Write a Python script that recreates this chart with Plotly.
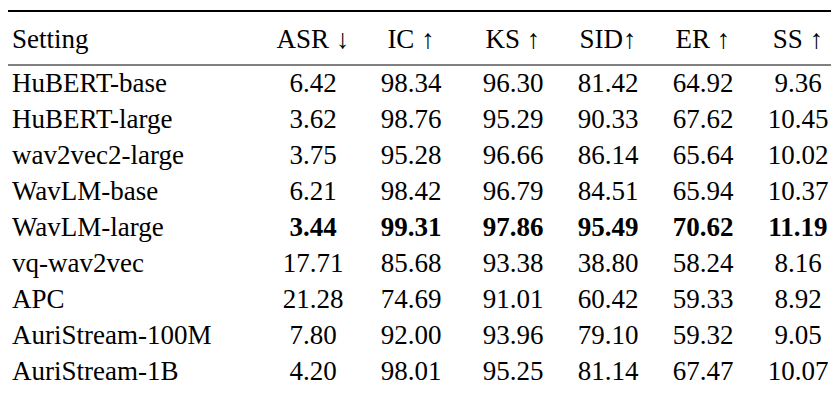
import plotly.graph_objects as go

header = ["Setting", "ASR ↓", "IC ↑", "KS ↑", "SID↑", "ER ↑", "SS ↑"]
settings = ["HuBERT-base", "HuBERT-large", "wav2vec2-large", "WavLM-base", "WavLM-large",
            "vq-wav2vec", "APC", "AuriStream-100M", "AuriStream-1B"]
asr = ["6.42", "3.62", "3.75", "6.21", "3.44", "17.71", "21.28", "7.80", "4.20"]
ic = ["98.34", "98.76", "95.28", "98.42", "99.31", "85.68", "74.69", "92.00", "98.01"]
ks = ["96.30", "95.29", "96.66", "96.79", "97.86", "93.38", "91.01", "93.96", "95.25"]
sid = ["81.42", "90.33", "86.14", "84.51", "95.49", "38.80", "60.42", "79.10", "81.14"]
er = ["64.92", "67.62", "65.64", "65.94", "70.62", "58.24", "59.33", "59.32", "67.47"]
ss = ["9.36", "10.45", "10.02", "10.37", "11.19", "8.16", "8.92", "9.05", "10.07"]
best_row = "WavLM-large"

font = dict(family="Liberation Serif", size=27, color="black")
col_x = [4, 305, 403, 505, 600, 695, 790]
header_y = 33
row_y = [77 + 36 * i for i in range(len(settings))]

fig = go.Figure()
fig.add_trace(go.Scatter(x=[col_x[0]], y=[header_y], mode="text", text=[header[0]],
                         textposition="middle right", textfont=font, hoverinfo="skip"))
fig.add_trace(go.Scatter(x=col_x[1:], y=[header_y] * 6, mode="text", text=header[1:],
                         textposition="middle center", textfont=font, hoverinfo="skip"))
fig.add_trace(go.Scatter(x=[col_x[0]] * len(settings), y=row_y, mode="text", text=settings,
                         textposition="middle right", textfont=font, hoverinfo="skip"))
for cx, col in zip(col_x[1:], [asr, ic, ks, sid, er, ss]):
    txt = ["<b>%s</b>" % v if s == best_row else v for v, s in zip(col, settings)]
    fig.add_trace(go.Scatter(x=[cx] * len(col), y=row_y, mode="text", text=txt,
                             textposition="middle center", textfont=font, hoverinfo="skip"))

# booktabs rules
fig.add_shape(type="line", x0=0, x1=839, y0=3, y1=3, line=dict(color="black", width=2))
fig.add_shape(type="line", x0=0, x1=839, y0=57, y1=57, line=dict(color="black", width=1))
fig.add_shape(type="line", x0=0, x1=839, y0=401, y1=401, line=dict(color="black", width=2))

fig.update_layout(width=839, height=405, margin=dict(l=0, r=0, t=0, b=0),
                  plot_bgcolor="white", paper_bgcolor="white", showlegend=False)
fig.update_xaxes(range=[0, 839], visible=False)
fig.update_yaxes(range=[405, 0], visible=False)
fig.write_html("out.html")
